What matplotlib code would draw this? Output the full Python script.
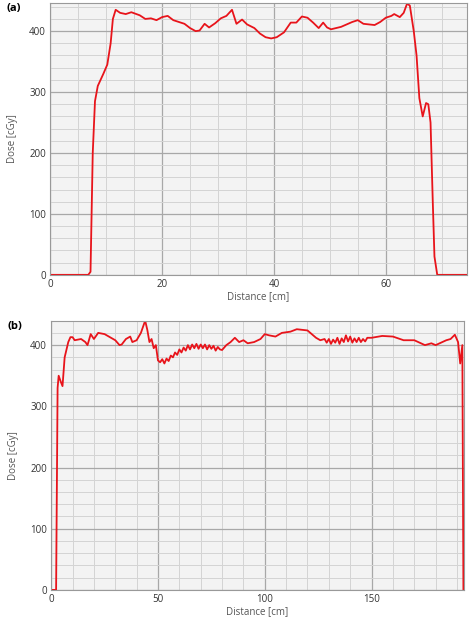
import matplotlib.pyplot as plt
from matplotlib.ticker import MultipleLocator

# panel (a) profile
dist_a = [0, 6.8, 7.2, 7.6, 8.0, 8.5, 9.5, 10.2, 10.8, 11.2, 11.7, 12.5, 13.5, 14.5, 16, 17, 18, 19,
          20, 21, 22, 24, 25, 26, 26.7, 27.6, 28.4, 29.5, 30.5, 31.5, 32.5, 33.3, 34.3, 35.2, 36.5,
          37.5, 38.5, 39.5, 40.5, 41.8, 43, 44, 45, 46, 47, 48, 48.8, 49.5, 50.2, 52, 54, 55, 56,
          58, 59, 60, 61, 61.5, 62.5, 63.2, 63.8, 64.3, 65, 65.5, 66, 66.6, 67.2, 67.6, 68, 68.4,
          68.7, 69.2, 75]
dose_a = [0, 0, 5, 200, 285, 310, 330, 345, 380, 420, 435, 430, 428, 431, 426, 420, 421, 418,
          423, 425, 418, 412, 405, 400, 401, 412, 406, 413, 421, 425, 435, 412, 419, 411, 405,
          396, 390, 388, 390, 398, 414, 414, 424, 422, 414, 405, 414, 406, 403, 407, 415, 418, 412,
          410, 415, 422, 425, 428, 423, 430, 445, 442, 400, 360, 290, 260, 282, 280, 250, 120,
          30, 0, 0]

# panel (b) profile
dist_b = [0, 2.3, 3, 3.5, 4.5, 5.3, 6.3, 8, 9, 10, 11, 14, 16, 17, 18.5, 20, 22, 25, 28, 30, 32,
          33, 35, 37, 38, 40, 42, 44, 45, 46, 47, 48, 49, 50, 51, 52, 53, 54, 55, 56,
          57, 58, 59, 60, 61, 62, 63, 64, 65, 66, 67, 68, 69, 70, 71, 72, 73, 74, 75, 76, 77, 78,
          79, 80, 82, 84, 86, 88, 90, 92, 95, 98, 100, 102, 105, 108, 112, 115, 120, 122, 124, 126,
          128, 129, 130, 131, 132, 133, 134, 135, 136, 137, 138, 139, 140, 141, 142, 143, 144, 145,
          146, 147, 148, 150, 155, 160, 165, 170, 175, 178, 180, 185, 187, 189, 190.5, 191.5,
          192.5, 193]
dose_b = [0, 0, 330, 350, 340, 333, 380, 405, 413, 413, 408, 410, 405, 400, 418, 410, 420, 418,
          412, 408, 400, 401, 410, 414, 405, 408, 420, 440, 425, 405, 410, 395, 400, 375, 372, 377,
          370, 378, 374, 383,
          380, 388, 384, 393, 388, 396, 391, 400, 393, 401, 395, 402, 394, 401, 395, 401, 393, 400,
          394, 399, 391, 397, 393, 392, 400, 405, 412, 405, 408, 403, 405, 410, 418, 416, 414, 420,
          422, 426, 424, 418, 412, 408, 410, 404, 410, 402, 409, 404, 412, 402, 411, 405, 416, 406,
          414, 404, 411, 405, 412, 405, 410, 406, 412, 412, 415, 414, 408, 408, 400, 403, 400, 408,
          410, 417, 405, 370, 400, 0]

plt.rcParams['font.family'] = ['Open Sans', 'DejaVu Sans']

fig = plt.figure(figsize=(4.74, 6.19), dpi=100)
ax_a = fig.add_axes([0.106, 0.556, 0.879, 0.439])
ax_b = fig.add_axes([0.108, 0.047, 0.871, 0.434])

panels = [
    (ax_a, dist_a, dose_a, 74.5, 446, 20, 5, "(a)"),
    (ax_b, dist_b, dose_b, 193.3, 439, 50, 10, "(b)"),
]
for ax, x, y, xmax, ymax, xmaj, xmin_step, label in panels:
    ax.set_facecolor("#f3f3f3")
    ax.plot(x, y, color="#e8141b", linewidth=1.3)
    ax.set_xlim(0, xmax)
    ax.set_ylim(0, ymax)
    ax.xaxis.set_major_locator(MultipleLocator(xmaj))
    ax.xaxis.set_minor_locator(MultipleLocator(xmin_step))
    ax.yaxis.set_major_locator(MultipleLocator(100))
    ax.yaxis.set_minor_locator(MultipleLocator(20))
    ax.grid(which="major", color="#a8a8a8", linewidth=0.9)
    ax.grid(which="minor", color="#d4d4d4", linewidth=0.7)
    ax.set_axisbelow(True)
    ax.tick_params(which="both", length=0, labelsize=7, colors="#333333", pad=3)
    for spine in ax.spines.values():
        spine.set_color("#999999")
    ax.set_xlabel("Distance [cm]", fontsize=7, color="#555555", labelpad=1)
    ax.set_ylabel("Dose [cGy]", fontsize=7, color="#555555", labelpad=8)
    ax.text(-0.105, 1.0, label, transform=ax.transAxes, fontsize=8, fontweight="bold",
            va="top", ha="left")

fig.savefig("out.png", dpi=100)
